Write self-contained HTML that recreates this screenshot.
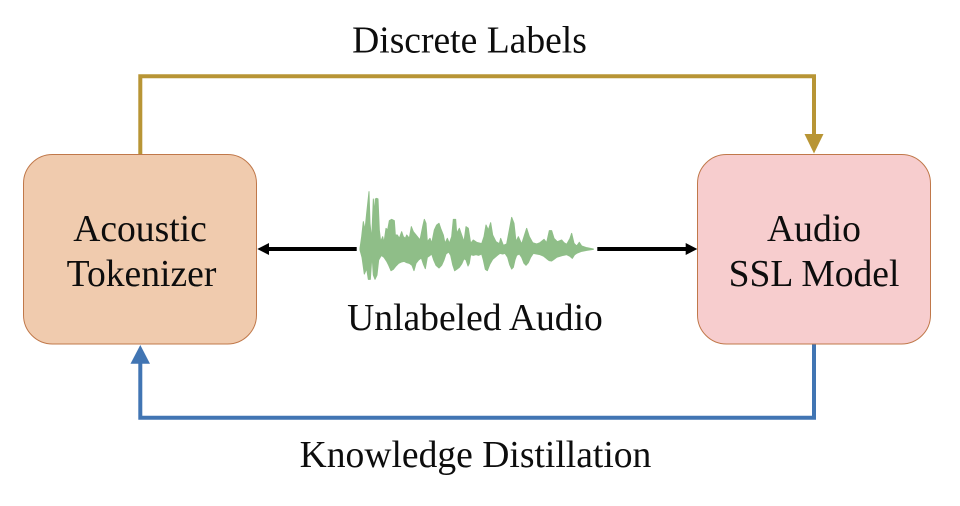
<!DOCTYPE html>
<html>
<head>
<meta charset="utf-8">
<style>
html,body{margin:0;padding:0;background:#fff;}
svg{display:block;}
text{font-family:"Liberation Serif",serif;font-size:37.6px;fill:#0d0d0d;text-anchor:middle;}
</style>
</head>
<body>
<svg width="960" height="506" viewBox="0 0 960 506" xmlns="http://www.w3.org/2000/svg">
<rect width="960" height="506" fill="#fff"/>
<rect x="23.5" y="154.5" width="233" height="189.5" rx="29" ry="29" fill="#f0cbae" stroke="#c0784a" stroke-width="1"/>
<rect x="697.5" y="154.5" width="233" height="189.5" rx="29" ry="29" fill="#f7cdce" stroke="#c0784a" stroke-width="1"/>
<path d="M140.3 154V76.3H814V136" fill="none" stroke="#b89535" stroke-width="4"/>
<polygon points="804.5,134 823.5,134 814,153.5" fill="#b89535"/>
<path d="M814 344.5V417.7H140.3V362" fill="none" stroke="#4175b3" stroke-width="4"/>
<polygon points="130.5,363.7 150,363.7 140.3,345" fill="#4175b3"/>
<path d="M356.7 249H268" fill="none" stroke="#000" stroke-width="4"/>
<polygon points="257.3,249 269,243 269,255" fill="#000"/>
<path d="M597.3 249H687" fill="none" stroke="#000" stroke-width="4"/>
<polygon points="697.3,249 685.7,243 685.7,255" fill="#000"/>
<g transform="translate(340 180) scale(.33333)">
<polygon fill="#8fbe88" stroke="#8fbe88" stroke-width="3" stroke-linejoin="round" points="60,205 65,170 70,125 75,150 80,100 87,35 90,130 95,180 100,57 104,100 106,57 110,55 114,57 118,150 122,185 128,170 132,188 138,145 143,150 148,122 155,118 163,122 166,165 172,165 178,175 185,155 190,170 196,175 200,165 208,175 214,140 220,155 228,165 240,180 248,140 253,118 258,130 262,185 270,175 275,190 283,150 290,135 297,130 302,145 310,165 315,190 322,175 328,190 335,170 340,118 347,118 350,160 358,145 365,165 372,185 378,140 385,145 392,190 400,180 410,187 425,191 432,170 438,135 445,150 452,128 458,165 468,185 478,191 482,175 490,196 500,192 508,150 515,112 522,130 528,185 535,170 545,192 552,170 560,145 568,170 578,188 590,192 600,188 612,178 620,188 628,152 635,152 642,175 652,185 665,180 672,188 680,193 690,175 695,160 702,190 710,198 718,187 725,198 740,203 760,207 760,208 740,211 725,214 712,219 704,224 697,235 690,229 680,224 670,226 660,229 650,232 642,238 635,243 628,242 620,236 610,228 600,224 590,222 580,220 572,232 565,248 558,256 552,250 545,232 538,222 530,226 525,240 520,262 515,267 509,254 503,232 495,220 488,222 480,220 472,226 465,232 458,238 450,252 442,272 436,268 430,240 425,222 416,226 408,224 400,226 392,224 388,250 384,258 378,240 372,236 365,252 358,262 350,268 344,272 338,254 332,226 326,216 318,222 312,240 305,256 297,264 288,256 281,240 275,222 268,228 262,232 256,266 250,252 244,234 236,240 228,250 222,272 216,256 208,250 200,248 192,244 184,246 176,250 168,258 160,268 153,272 146,256 140,244 132,232 124,226 116,240 111,285 105,298 100,285 96,224 91,298 85,298 80,266 73,282 66,232 60,210"/>
</g>
<text x="469.5" y="52.5">Discrete Labels</text>
<text x="140" y="241">Acoustic</text>
<text x="141.5" y="286">Tokenizer</text>
<text x="814" y="241">Audio</text>
<text x="814" y="286">SSL Model</text>
<text x="475" y="330">Unlabeled Audio</text>
<text x="475.5" y="466.8">Knowledge Distillation</text>
</svg>
</body>
</html>
